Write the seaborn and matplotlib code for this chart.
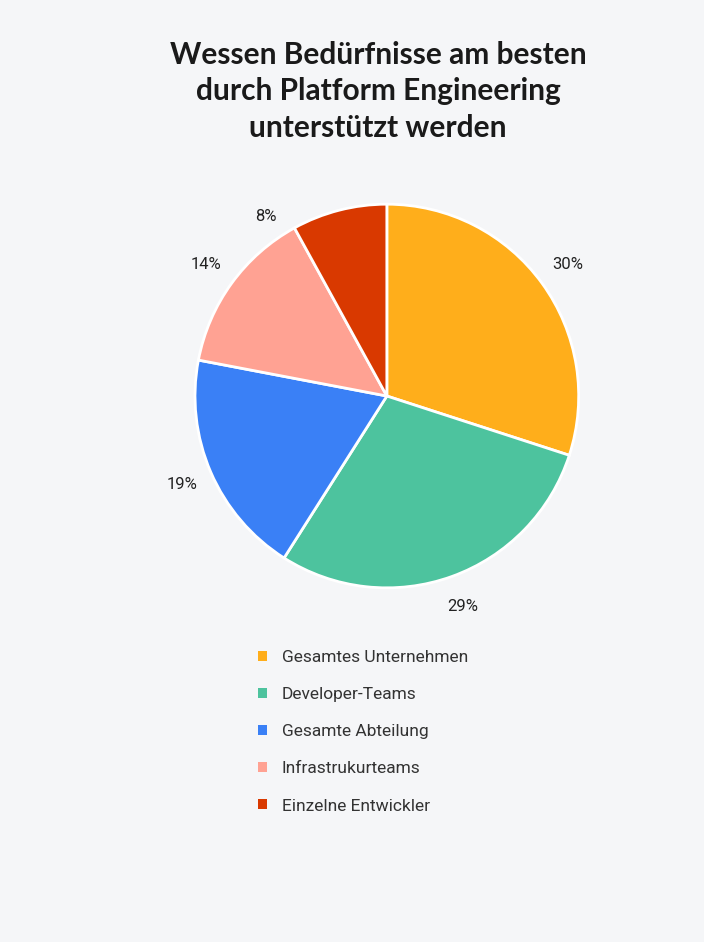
import matplotlib
matplotlib.use("Agg")
import matplotlib.pyplot as plt
from matplotlib.patches import Patch
import numpy as np
import seaborn as sns

categories = ["Gesamtes Unternehmen", "Developer-Teams", "Gesamte Abteilung",
              "Infrastrukurteams", "Einzelne Entwickler"]
values = [30, 29, 19, 14, 8]
colors = ["#FFAE1B", "#4DC39E", "#3A80F6", "#FFA293", "#D93900"]
title = "Wessen Bedürfnisse am besten\ndurch Platform Engineering\nunterstützt werden"

bg = "#F5F6F8"
sns.set_theme(style="white")
plt.rcParams["font.family"] = ["Roboto", "DejaVu Sans"]

fig = plt.figure(figsize=(7.04, 9.42), dpi=100, facecolor=bg)
ax = fig.add_axes([0.277, 0.3758, 0.545, 0.4076])
ax.set_facecolor(bg)

wedges, texts = ax.pie(
    values, colors=sns.color_palette(colors), startangle=90, counterclock=False,
    labels=[f"{v}%" for v in values], labeldistance=1.165,
    wedgeprops=dict(edgecolor="white", linewidth=2),
    textprops=dict(fontsize=12, color="#222222", fontstretch="condensed"),
)
for t in texts:
    t.set_horizontalalignment("center")
    t.set_verticalalignment("center")
# small last slice label is nudged sideways (as the original layout does)
ang = np.deg2rad(124)
texts[-1].set_position((1.13 * np.cos(ang), 1.13 * np.sin(ang)))
ax.set_aspect("equal")
ax.set_xlim(-1, 1)
ax.set_ylim(-1, 1)
ax.axis("off")

fig.text(0.537, 0.957, title, ha="center", va="top", fontsize=21.5,
         fontweight="bold", color="#1a1a1a", family=["Lato", "DejaVu Sans"],
         linespacing=1.37)

handles = [Patch(facecolor=c, edgecolor="none") for c in colors]
leg = fig.legend(handles, categories, loc="upper left",
                 bbox_to_anchor=(0.357, 0.317), frameon=False,
                 fontsize=12.5, handlelength=0.5, handleheight=0.5,
                 handletextpad=0.85, labelspacing=1.27, borderaxespad=0)
for t in leg.get_texts():
    t.set_color("#333333")

fig.savefig("out.png", dpi=100, facecolor=bg)
